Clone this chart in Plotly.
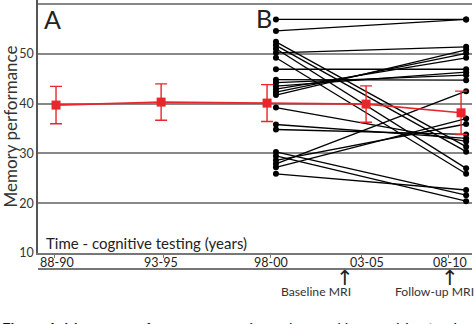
import plotly.graph_objects as go

# ---- data ----
period_labels = ["88-90", "93-95", "98-00", "03-05", "08-10"]
label_pos = [1989.05, 1994.2, 1999.6, 2004.36, 2008.46]
tick_pos = [1988.9, 1994.3, 1999.6, 2004.1, 2008.4]
group_x = [1989, 1994.19, 1999.42, 2004.31, 2009]
group_mean = [39.7, 40.3, 40.1, 39.9, 38.15]
group_err = [3.75, 3.65, 3.7, 3.65, 4.35]

indiv_x = [1999.86, 2009.25]
indiv_baseline = [56.9, 54.6, 52.4, 51.7, 51.0, 50.2, 49.2, 46.9, 44.8, 44.2, 43.5, 42.9,
                  42.3, 41.7, 39.2, 35.8, 34.8, 30.3, 29.5, 28.6, 27.9, 27.2, 25.9]
indiv_followup = [56.9, 56.9, 31.35, 30.35, 27.0, 51.4, 25.9, 46.9, 44.7, 45.7, 46.3, 49.2,
                  50.1, 50.8, 32.4, 33.0, 33.8, 21.6, 20.4, 35.9, 42.5, 37.0, 22.65]
y_ticks = [10, 20, 30, 40, 50, 60]

W, H = 474, 324
L, R, T, B = 38, 2, 0, 71
ph = H - T - B
pw = W - L - R

def py(p):
    return (ph - p) / ph

def px(p):
    return (p - L) / pw

fig = go.Figure()
for a, b in zip(indiv_baseline, indiv_followup):
    fig.add_trace(go.Scatter(x=indiv_x, y=[a, b], mode="lines+markers",
                             line=dict(color="black", width=1.3),
                             marker=dict(color="black", size=6),
                             showlegend=False, hoverinfo="skip"))

fig.add_trace(go.Scatter(x=group_x, y=group_mean, mode="lines+markers",
                         line=dict(color="#e8262b", width=1.6),
                         marker=dict(color="#e8262b", size=9, symbol="square"),
                         error_y=dict(type="data", array=group_err, color="#e8262b",
                                      thickness=1.4, width=6),
                         showlegend=False))

fig.update_layout(
    width=W, height=H, margin=dict(l=L, r=R, t=T, b=B),
    paper_bgcolor="white", plot_bgcolor="white",
    font=dict(family="Lato", color="#333"),
    xaxis=dict(range=[1988.11, 2009.54], tickvals=tick_pos, showticklabels=False,
               showgrid=False, zeroline=False, showline=True, linecolor="#777",
               linewidth=2, ticks="outside", ticklen=3, tickwidth=1, tickcolor="#777"),
    yaxis=dict(range=[10, 60.8], tickvals=y_ticks, showgrid=True, gridcolor="#888",
               gridwidth=1.5, zeroline=False, showline=True, linecolor="#555",
               linewidth=1.5, ticks="", tickfont=dict(size=12.5, color="#333"),
               title=dict(text="Memory performance", font=dict(size=17, color="#333"),
                          standoff=3)),
)

for lab, pos in zip(period_labels, label_pos):
    fig.add_annotation(text=lab, x=pos, xref="x", yref="paper", y=py(262),
                       xanchor="center", yanchor="middle", showarrow=False,
                       font=dict(size=12.5, color="#222"))

fig.add_shape(type="line", xref="paper", yref="paper", x0=0, x1=1,
              y0=py(269), y1=py(269), line=dict(color="#777", width=2))

for t, x, y in [("A", 52, 19), ("B", 264, 18)]:
    fig.add_annotation(text=t, xref="paper", yref="paper", x=px(x), y=py(y),
                       showarrow=False, xanchor="center", yanchor="middle",
                       font=dict(size=25, color="#222"))

fig.add_annotation(text="Time - cognitive testing (years)", xref="paper", yref="paper",
                   x=px(44), y=py(243), xanchor="left", yanchor="middle",
                   showarrow=False, font=dict(size=15, color="#222"))

for txt, cx, ax in [("Baseline MRI", 316, 345), ("Follow-up MRI", 434, 450)]:
    fig.add_annotation(text=txt, xref="paper", yref="paper",
                       x=px(cx), y=py(291), xanchor="center",
                       yanchor="middle", showarrow=False,
                       font=dict(size=12.2, color="#333"))
    fig.add_annotation(text="↑", xref="paper", yref="paper",
                       x=px(ax), y=py(278), xanchor="center",
                       yanchor="middle", showarrow=False,
                       font=dict(size=21, color="#222", family="DejaVu Sans"))

fig.add_annotation(text="<b>Figure 1</b>  Memory performance over time, observed by cognitive testing, including",
                   xref="paper", yref="paper", x=px(0), y=py(317),
                   xanchor="left", yanchor="top", showarrow=False,
                   font=dict(size=15, color="#111"))

fig.write_html("out.html")
